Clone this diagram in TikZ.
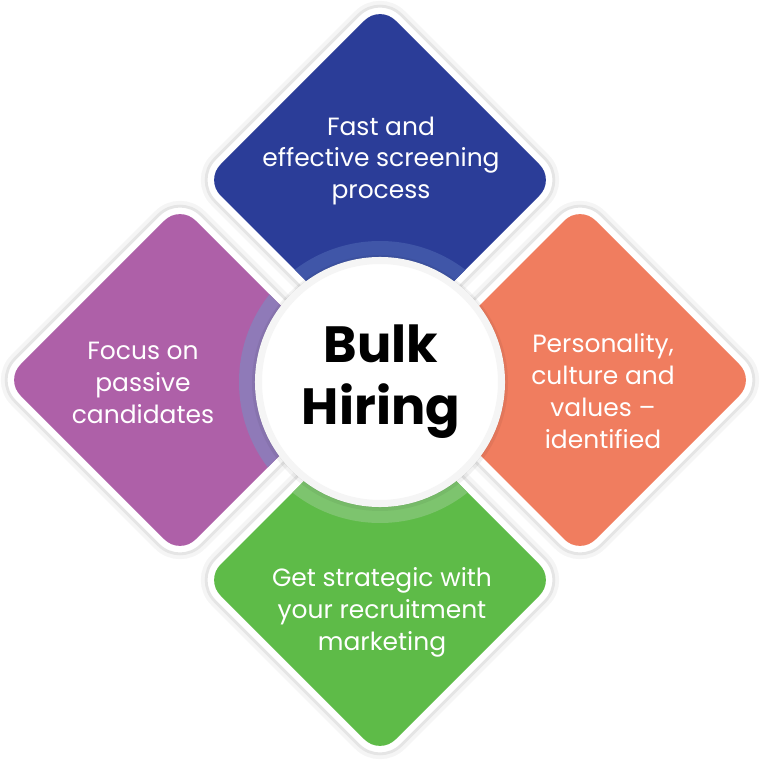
\documentclass[tikz,border=0pt]{standalone}
\usepackage{fontspec}
\setmainfont{Poppins}
\newfontfamily\tilefont{Poppins}

\definecolor{tileblue}{RGB}{43,61,152}
\definecolor{tileorange}{RGB}{240,125,95}
\definecolor{tilegreen}{RGB}{94,187,72}
\definecolor{tilepurple}{RGB}{174,96,168}
\definecolor{ringblue}{RGB}{64,86,168}
\definecolor{ringpurple}{RGB}{143,122,184}
\definecolor{ringgreen}{RGB}{125,196,110}

% rounded diamond round (#1,#2), half diagonal #3
\newcommand{\dpath}[3]{(#1+#3/2,#2+#3/2) -- (#1+#3,#2) -- (#1,#2-#3) -- (#1-#3,#2) -- (#1,#2+#3) -- cycle}

\tikzset{
  frame/.style={fill=white, draw=black!10, line width=0.8pt, rounded corners=0.3cm},
  halo/.style={draw=black!4, line width=3pt, rounded corners=0.3cm},
  tile/.style={rounded corners=0.22cm},
  tiletext/.style={text=white, align=center, font=\tilefont\fontsize{7.1}{9.1}\selectfont},
  hiretext/.style={text=black, align=center, font=\bfseries\fontsize{14.5}{17.6}\selectfont}
}

\begin{document}
\begin{tikzpicture}[scale=1]

\useasboundingbox (-3.80,-3.88) rectangle (3.88,3.80);

% white frames
\draw [halo] \dpath{0}{2}{1.863};
\draw [halo] \dpath{2}{0}{1.863};
\draw [halo] \dpath{0}{-2}{1.863};
\draw [halo] \dpath{-2}{0}{1.863};
\draw [frame] \dpath{0}{2}{1.863};
\draw [frame] \dpath{2}{0}{1.863};
\draw [frame] \dpath{0}{-2}{1.863};
\draw [frame] \dpath{-2}{0}{1.863};

% coloured tiles
\fill [tile, tileblue] \dpath{0}{2}{1.75};
\fill [tile, tileorange] \dpath{2}{0}{1.75};
\fill [tile, tilegreen] \dpath{0}{-2}{1.75};
\fill [tile, tilepurple] \dpath{-2}{0}{1.75};

% ring
\begin{scope}
\clip [tile] \dpath{0}{2}{1.75};
\fill [ringblue] (0,-0.02) circle (1.41);
\end{scope}
\begin{scope}
\clip [tile] \dpath{-2}{0}{1.75};
\fill [ringpurple] (0,-0.02) circle (1.41);
\end{scope}
\begin{scope}
\clip [tile] \dpath{0}{-2}{1.75};
\fill [ringgreen] (0,-0.02) circle (1.41);
\end{scope}

% centre disc
\fill [black, opacity=0.05] (0,-0.03) circle (1.28);
\fill [black, opacity=0.06] (0,-0.02) circle (1.255);
\fill [white] (0,-0.02) circle (1.24);
\draw [black!4, line width=2pt] (0,-0.02) circle (1.215);

\node (bulk) at (0.01,-0.02) [hiretext] {Bulk\\Hiring};

\node (fast) at (0.01,2.19) [tiletext] {Fast and\\effective screening\\process};
\node (passive) at (-2.37,-0.03) [tiletext] {Focus on\\passive\\candidates};
\node (values) at (2.23,-0.11) [tiletext] {Personality,\\culture and\\values –\\identified};
\node (market) at (0.02,-2.32) [tiletext] {Get strategic with\\your recruitment\\marketing};

\end{tikzpicture}
\end{document}
